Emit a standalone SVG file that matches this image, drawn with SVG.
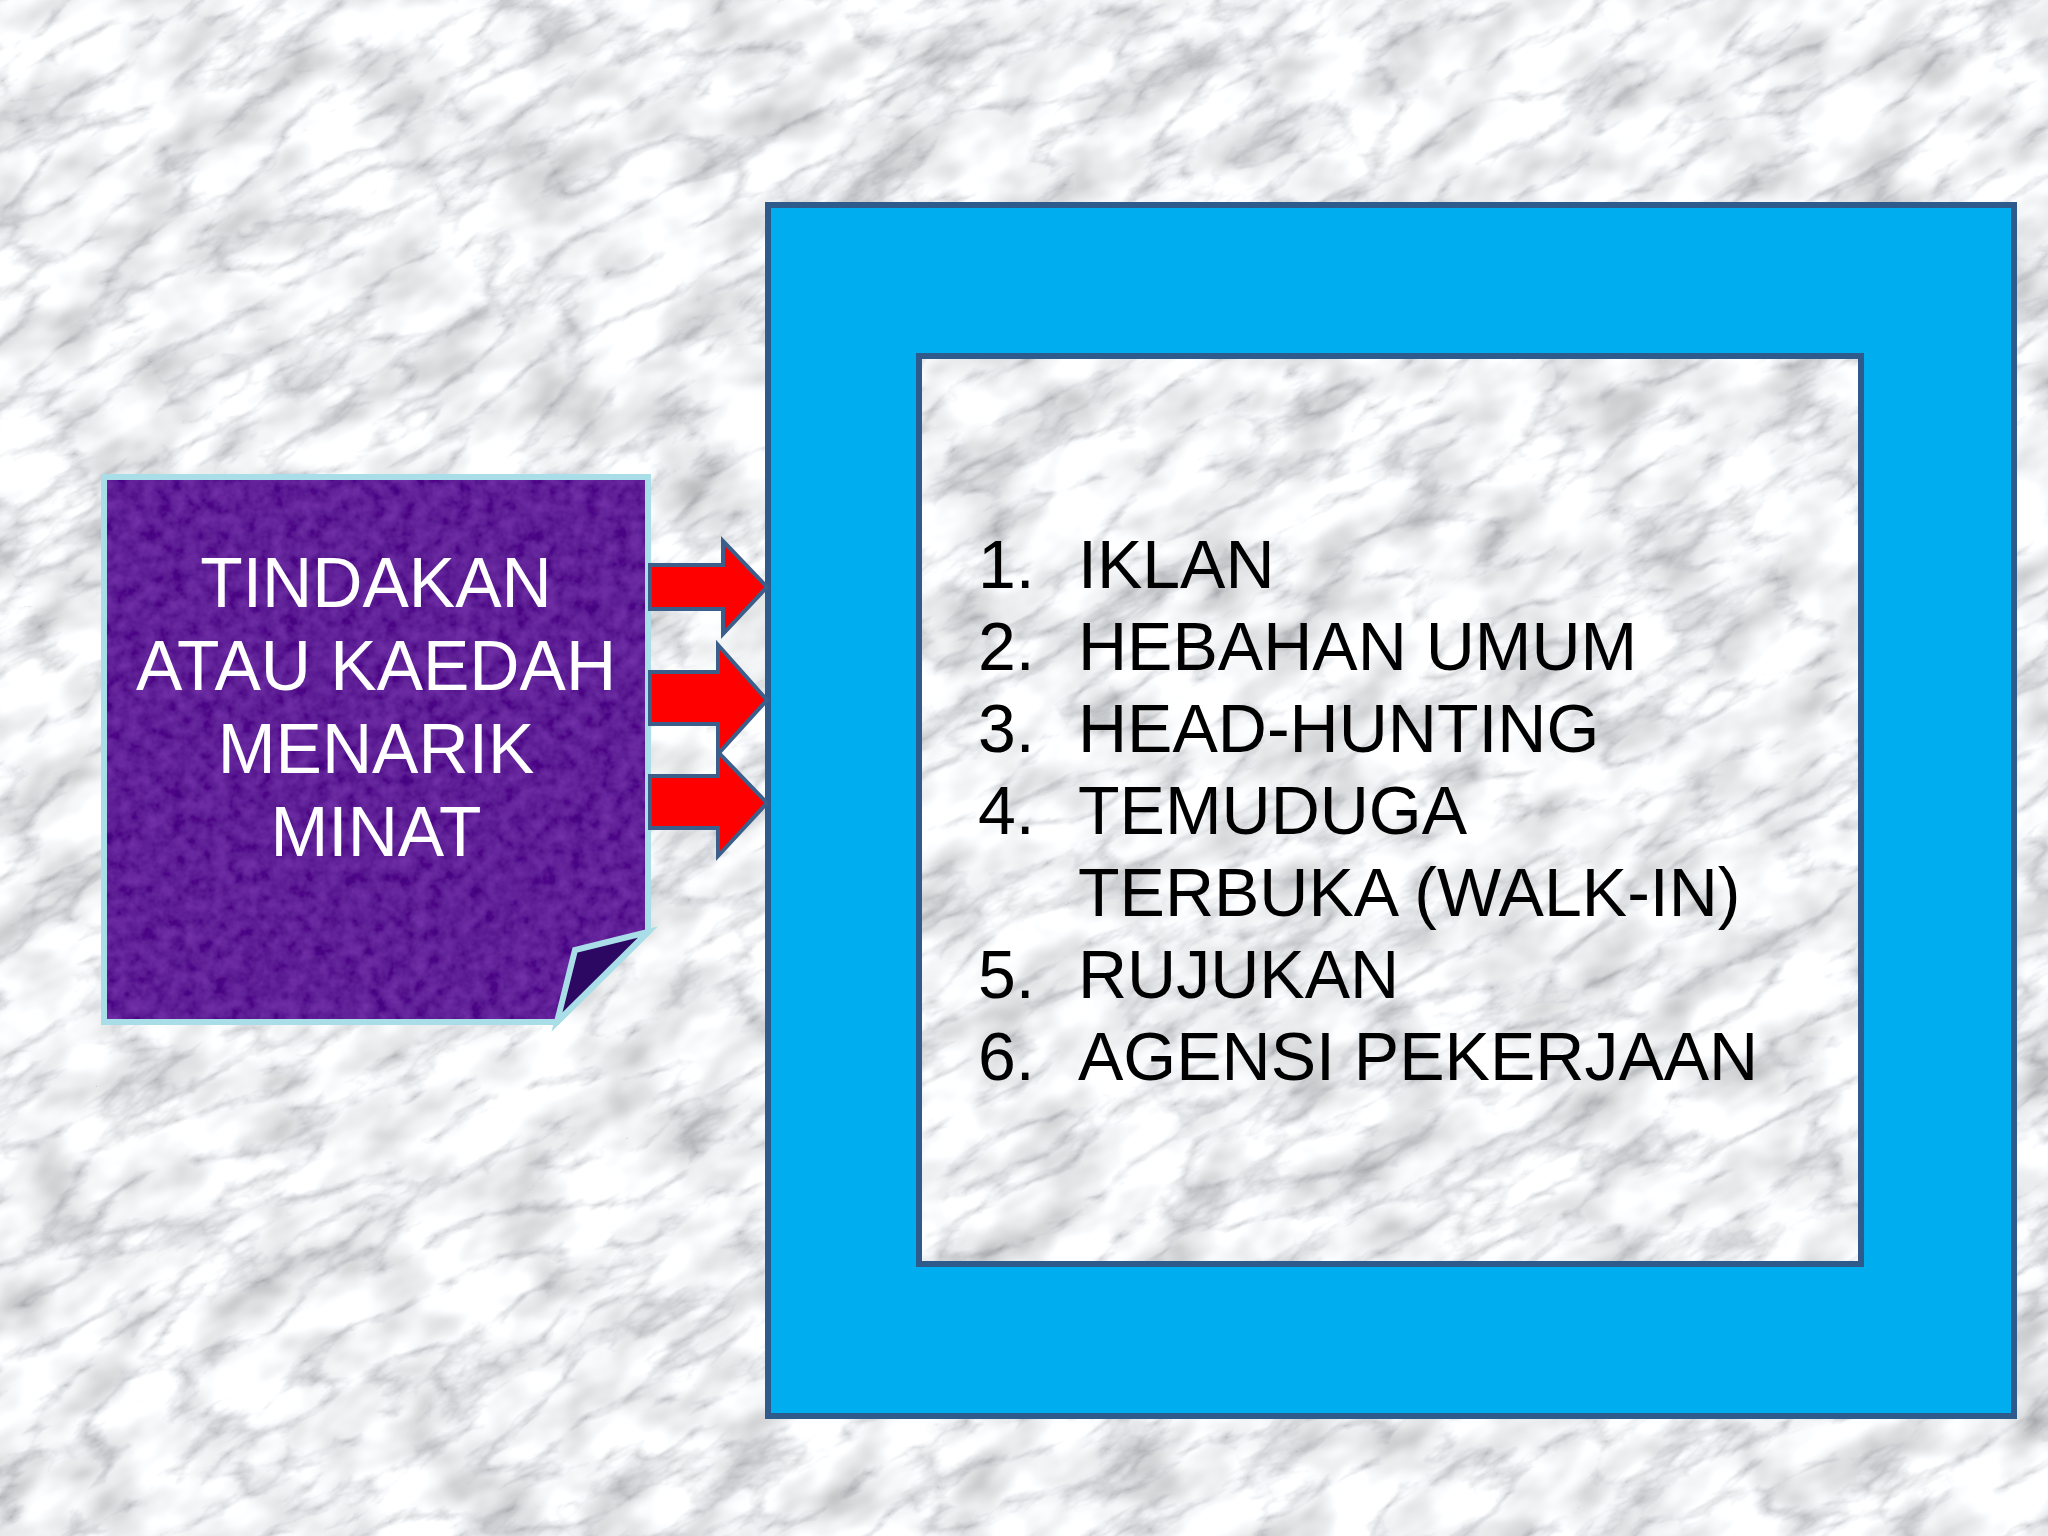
<svg xmlns="http://www.w3.org/2000/svg" width="2048" height="1536" viewBox="0 0 2048 1536">
<defs>
<filter id="marble" x="-600" y="-600" width="3400" height="3400" filterUnits="userSpaceOnUse">
<feTurbulence type="turbulence" baseFrequency="0.009 0.022" numOctaves="5" seed="11" result="n"/>
<feColorMatrix in="n" type="matrix" values="1.3 0 0 0 0.62  1.3 0 0 0 0.63  1.3 0 0 0 0.65  0 0 0 0 1" result="v"/>
<feTurbulence type="fractalNoise" baseFrequency="0.012 0.02" numOctaves="3" seed="4" result="c"/>
<feColorMatrix in="c" type="matrix" values="0.9 0 0 0 0.45  0.9 0 0 0 0.46  0.9 0 0 0 0.47  0 0 0 0 1" result="cl"/>
<feBlend in="v" in2="cl" mode="multiply"/>
</filter>
<filter id="velvet" x="0" y="0" width="100%" height="100%">
<feTurbulence type="fractalNoise" baseFrequency="0.07" numOctaves="3" seed="2" result="n"/>
<feColorMatrix in="n" type="matrix" values="0.45 0 0 0 0.0  0.15 0 0 0 -0.04  0.6 0 0 0 0.14  0 0 0 0 1"/>
</filter>
<style>
.frame{fill:#00adef;stroke:#2e5a8c;stroke-width:6;fill-rule:evenodd}
.note{stroke:#a9dde8;stroke-width:6;stroke-linejoin:miter}
.arrow{fill:#ff0000;stroke:#3b5f8a;stroke-width:4;stroke-linejoin:miter}
.nt{font-family:"Liberation Sans",Arial,sans-serif;font-size:69.5px;fill:#ffffff;text-anchor:middle}
.lt{font-family:"Liberation Sans",Arial,sans-serif;font-size:68px;fill:#000000}
</style>
<clipPath id="noteclip"><polygon points="104,477 648,477 648,932 557,1022 104,1022"/></clipPath>
</defs>
<rect x="0" y="0" width="2048" height="1536" fill="#e6e8ea"/>
<g transform="rotate(-28 1024 768)">
<rect x="-600" y="-600" width="3400" height="3400" filter="url(#marble)"/>
</g>
<g id="frame">
<path class="frame" d="M768,205 H2014 V1416 H768 Z M919,356 V1264 H1861 V356 Z"/>
</g>
<g id="list">
<text class="lt" x="978" y="588">1.</text><text class="lt" x="1078" y="588">IKLAN</text>
<text class="lt" x="978" y="670">2.</text><text class="lt" x="1078" y="670">HEBAHAN UMUM</text>
<text class="lt" x="978" y="752">3.</text><text class="lt" x="1078" y="752">HEAD-HUNTING</text>
<text class="lt" x="978" y="834">4.</text><text class="lt" x="1078" y="834">TEMUDUGA</text>
<text class="lt" x="1078" y="916">TERBUKA (WALK-IN)</text>
<text class="lt" x="978" y="998">5.</text><text class="lt" x="1078" y="998">RUJUKAN</text>
<text class="lt" x="978" y="1080">6.</text><text class="lt" x="1078" y="1080">AGENSI PEKERJAAN</text>
</g>
<g id="note">
<polygon points="104,477 648,477 648,932 557,1022 104,1022" fill="#3c0b7c"/>
<rect x="104" y="477" width="544" height="545" filter="url(#velvet)" clip-path="url(#noteclip)" opacity="0.5"/>
<polygon class="note" points="104,477 648,477 648,932 557,1022 104,1022" fill="none"/>
<polygon class="note" points="648,932 575,950 557,1022" fill="#2c0862"/>
<text class="nt" x="376" y="607">TINDAKAN</text>
<text class="nt" x="376" y="690">ATAU KAEDAH</text>
<text class="nt" x="376" y="773">MENARIK</text>
<text class="nt" x="376" y="856">MINAT</text>
</g>
<g id="connectors">
<polygon class="arrow" points="650,565 723,565 723,541 767,587 723,634 723,609 650,609"/>
<polygon class="arrow" points="650,672 718,672 718,645 767,700 718,754 718,724 650,724"/>
<polygon class="arrow" points="650,776 718,776 718,752 767,803 718,856 718,828 650,828"/>
</g>
</svg>
